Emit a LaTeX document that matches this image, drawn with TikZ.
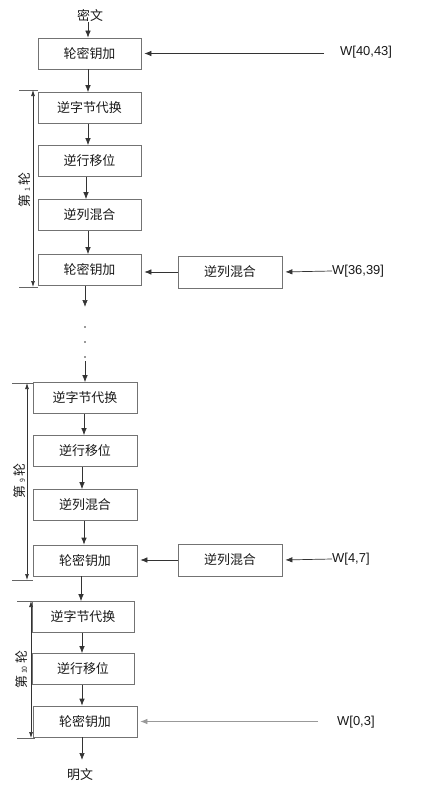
\documentclass[tikz,border=0pt]{standalone}
\usepackage{fontspec}
\setmainfont{Liberation Sans}
\newfontfamily\cjk{Noto Sans CJK SC}
\usetikzlibrary{arrows.meta}
\tikzset{
  boxnode/.style={draw=black!55, line width=0.7bp, minimum width=103bp, minimum height=31bp, inner sep=0pt, font=\cjk\fontsize{13}{15}\selectfont, text=black!90},
  sidebox/.style={boxnode, minimum width=104bp, minimum height=32bp},
  txt/.style={inner sep=0pt, font=\cjk\fontsize{13}{15}\selectfont, text=black!90},
  wtxt/.style={inner sep=0pt, anchor=west, font=\fontsize{13}{15}\selectfont, text=black!90},
  arr/.style={draw=black!80, line width=0.7bp, -{Latex[length=7bp,width=5.5bp]}},
  harr/.style={arr, shorten >=3bp},
  larr/.style={harr, draw=black!40},
  brk/.style={draw=black!80, line width=0.7bp, {Latex[length=6bp,width=4bp]}-{Latex[length=6bp,width=4bp]}},
  tick/.style={draw=black!60, line width=0.6bp},
  dotnode/.style={circle, fill=black!80, inner sep=0pt, minimum size=1.8bp},
  rlabel/.style={rotate=90, inner sep=0pt, font=\cjk\fontsize{13}{15}\selectfont, text=black!90}
}
\begin{document}
\begin{tikzpicture}[x=1bp,y=-1bp]
\useasboundingbox (0,0) rectangle (432,792);
% top
\node[txt] (cipher) at (90,16) {密文};
\node[boxnode] (k0) at (89.5,53.5) {轮密钥加};
\node[wtxt] (w0) at (340,52) {W[40,43]};
\coordinate (w0s) at (324,53.5);
% round 1
\node[boxnode] (r1s) at (89.5,108) {逆字节代换};
\node[boxnode] (r1r) at (89.5,161) {逆行移位};
\node[boxnode] (r1m) at (89.5,215) {逆列混合};
\node[boxnode] (r1k) at (89.5,270) {轮密钥加};
\node[sidebox] (s1) at (230,272) {逆列混合};
\node[wtxt] (w1) at (332,271) {W[36,39]};
% dots
\coordinate (gapA) at (85,307);
\node[dotnode] (d1) at (85,327) {};
\node[dotnode] (d2) at (85,342) {};
\node[dotnode] (d3) at (85,357) {};
% round 9
\node[boxnode, minimum width=104bp] (r9s) at (85,398) {逆字节代换};
\node[boxnode, minimum width=104bp] (r9r) at (85,451) {逆行移位};
\node[boxnode, minimum width=104bp] (r9m) at (85,505) {逆列混合};
\node[boxnode, minimum width=104bp] (r9k) at (85,560.5) {轮密钥加};
\node[sidebox] (s9) at (230,560) {逆列混合};
\node[wtxt] (w9) at (332,559) {W[4,7]};
% round 10
\node[boxnode, minimum width=102bp] (r10s) at (83,617) {逆字节代换};
\node[boxnode, minimum width=102bp] (r10r) at (83,669) {逆行移位};
\node[boxnode, minimum width=104bp] (r10k) at (85,721.5) {轮密钥加};
\node[wtxt] (w10) at (337,722) {W[0,3]};
\coordinate (w10s) at (318,721.5);
\node[txt] (plain) at (80,775) {明文};
\coordinate (pend) at (82,760);
% vertical arrows
\draw[arr] (cipher.south -| 88,0) -- (88,0 |- k0.north);
\draw[arr] (k0.south -| 88,0) -- (88,0 |- r1s.north);
\draw[arr] (r1s.south -| 88,0) -- (88,0 |- r1r.north);
\draw[arr] (r1r.south -| 86,0) -- (86,0 |- r1m.north);
\draw[arr] (r1m.south -| 88,0) -- (88,0 |- r1k.north);
\draw[arr] (r1k.south -| gapA) -- (gapA);
\draw[arr] (d3.south) ++(0,3) -- (d3 |- r9s.north);
\draw[arr] (r9s.south -| 84,0) -- (84,0 |- r9r.north);
\draw[arr] (r9r.south -| 82,0) -- (82,0 |- r9m.north);
\draw[arr] (r9m.south -| 84,0) -- (84,0 |- r9k.north);
\draw[arr] (r9k.south -| 81,0) -- (81,0 |- r10s.north);
\draw[arr] (r10s.south -| 82,0) -- (82,0 |- r10r.north);
\draw[arr] (r10r.south -| 82,0) -- (82,0 |- r10k.north);
\draw[arr] (r10k.south -| pend) -- (pend);
% horizontal arrows
\draw[harr] (w0s) -- (k0.east);
\draw[harr] (s1.west) -- (r1k.east |- s1.west);
\draw[harr] (w1.west) -- (s1.east);
\draw[harr] (s9.west) -- (r9k.east |- s9.west);
\draw[harr] (w9.west) -- (s9.east);
\draw[larr] (w10s) -- (r10k.east);
% round brackets
\coordinate (b1t) at (33,90); \coordinate (b1b) at (33,287);
\draw[tick] (19,90) -- (r1s.north west |- b1t);
\draw[tick] (19,287) -- (r1k.south west |- b1b);
\draw[brk] (b1t) -- (b1b);
\node[rlabel] (l1) at (25,190) {第\,{\fontsize{7}{8}\selectfont 1}\,轮};
\coordinate (b9t) at (27,383); \coordinate (b9b) at (27,580);
\draw[tick] (12,383) -- (r9s.north west |- b9t);
\draw[tick] (12,580) -- (r9k.south west |- b9b);
\draw[brk] (b9t) -- (b9b);
\node[rlabel] (l9) at (20,481) {第\,{\fontsize{7}{8}\selectfont 9}\,轮};
\coordinate (b10t) at (31,601); \coordinate (b10b) at (31,738);
\draw[tick] (17,601) -- (r10s.north west |- b10t);
\draw[tick] (17,738.5) -- (35,738.5);
\draw[brk] (b10t) -- (b10b);
\node[rlabel] (l10) at (22,670) {第\,{\fontsize{7}{8}\selectfont 10}\,轮};
\end{tikzpicture}
\end{document}
